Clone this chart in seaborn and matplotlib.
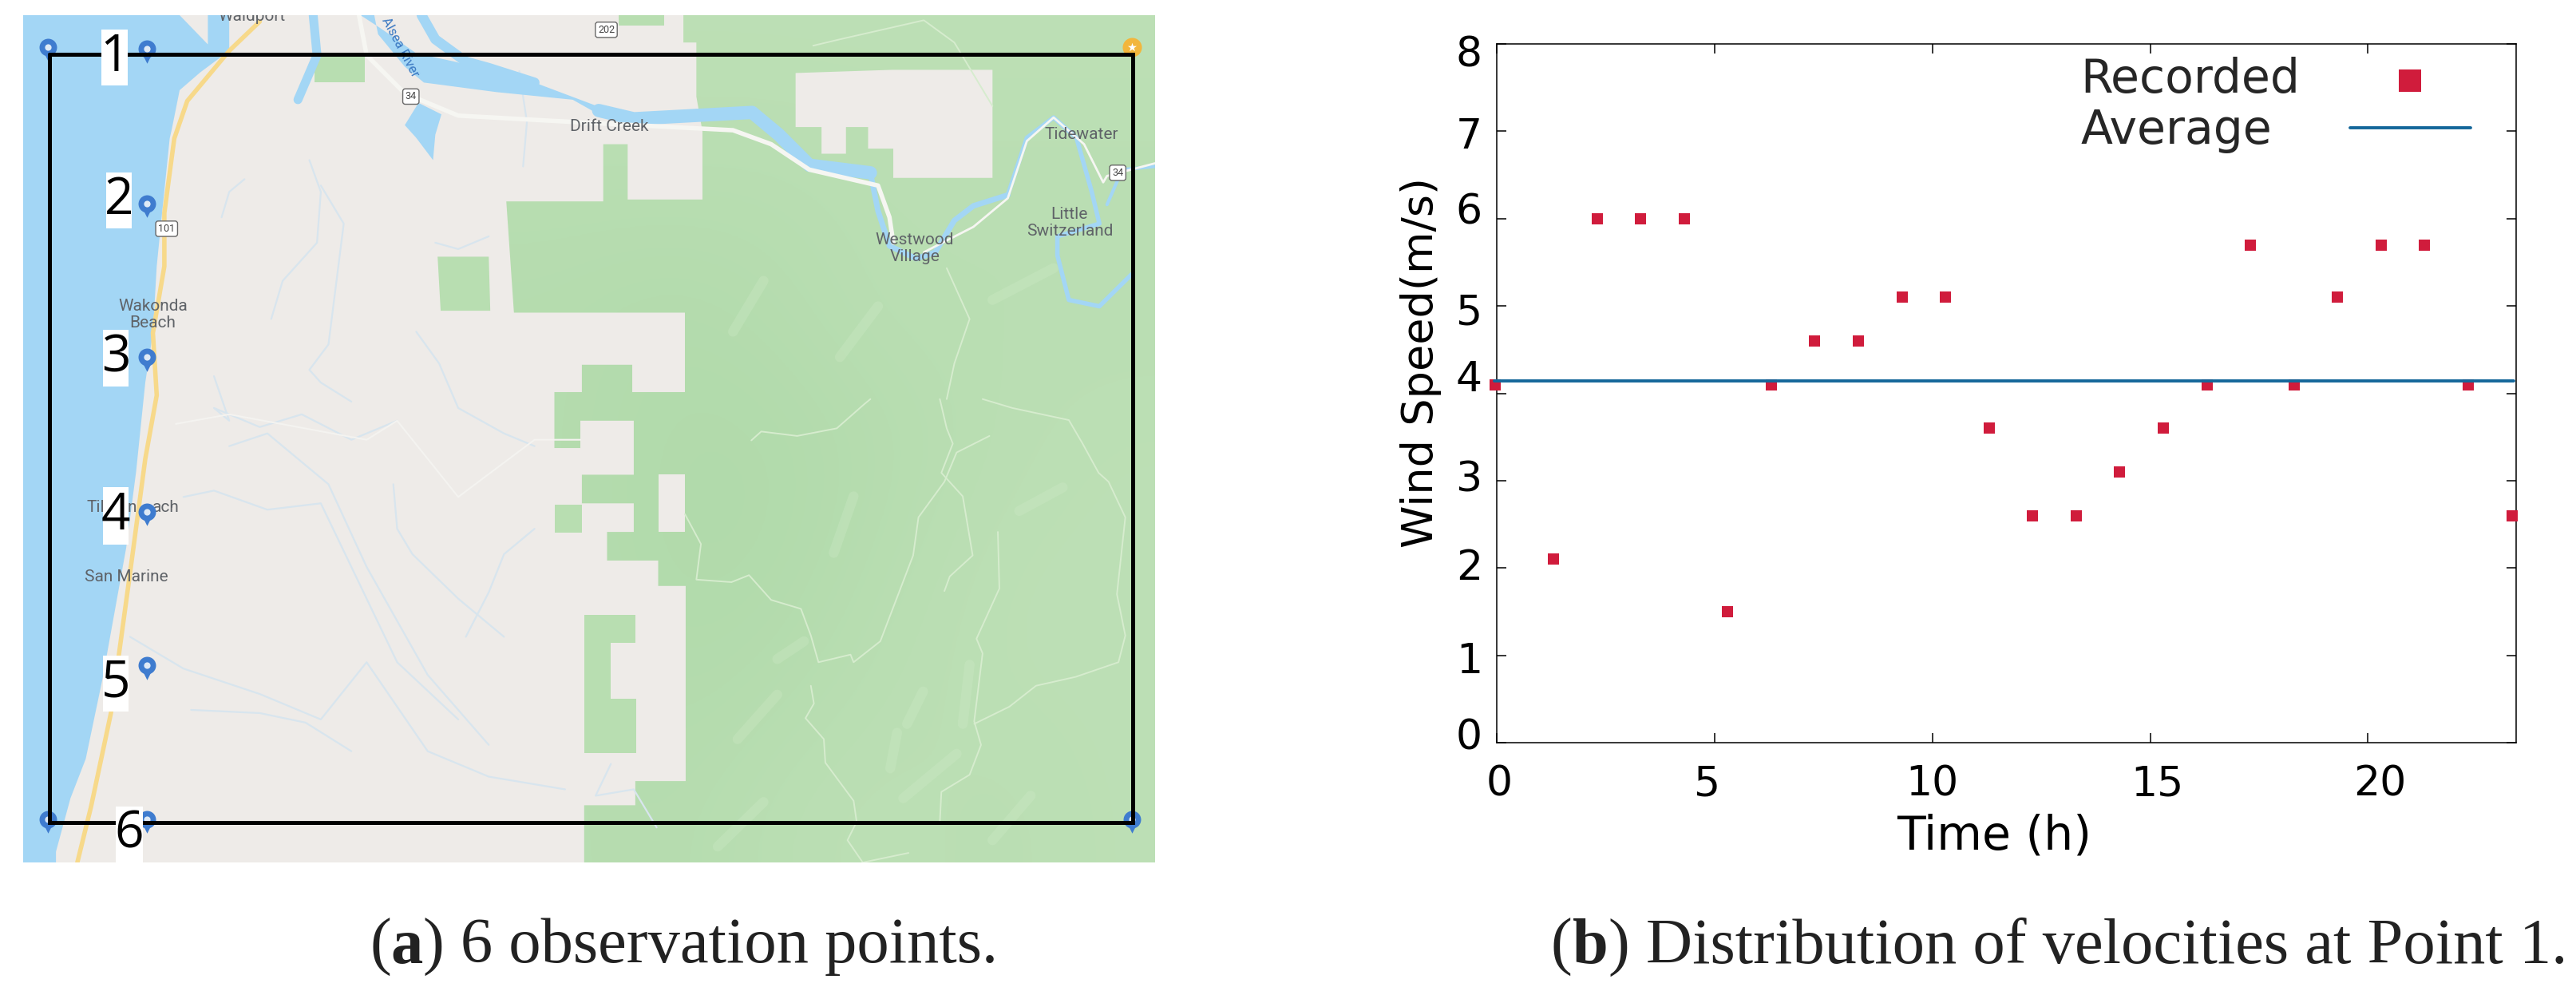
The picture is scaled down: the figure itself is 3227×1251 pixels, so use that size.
import matplotlib
matplotlib.use("Agg")
import matplotlib.pyplot as plt
import numpy as np
import pandas as pd
import seaborn as sns
from matplotlib.patches import Polygon, Rectangle
from matplotlib.transforms import Affine2D
from matplotlib.colors import LinearSegmentedColormap

sns.set_theme(style="white")
plt.rcParams['font.family'] = ['DejaVu Sans']

W, H = 3227, 1251
# ---------- chart data ----------
hours = [-0.03, 1.3, 2.3, 3.3, 4.3, 5.3, 6.3, 7.3, 8.3, 9.3, 10.3, 11.3, 12.3, 13.3, 14.3, 15.3, 16.3, 17.3, 18.3, 19.3, 20.3, 21.3, 22.3, 23.3]
speeds = [4.1, 2.1, 6.0, 6.0, 6.0, 1.5, 4.1, 4.6, 4.6, 5.1, 5.1, 3.6, 2.6, 2.6, 3.1, 3.6, 4.1, 5.7, 4.1, 5.1, 5.7, 5.7, 4.1, 2.6]
average = 4.14
avg_span = [-0.05, 23.35]
xtick_vals = [0, 5, 10, 15, 20]
ytick_vals = [0, 1, 2, 3, 4, 5, 6, 7, 8]
# the reference's tick labels sit slightly off their ticks (pixels)
xlabel_shift = [3, -9, 0, 9, 15]
ylabel_shift = [11, -3, 5, 6, 22, -4, 13, -2, -9]

# ---------- map outlines ----------
sea = [(30,22),(235,22),(272,68),(272,22),(300,22),(300,78),(262,112),(235,140),(225,200),(222,216),(212,333),(205,417),(200,522),(190,600),(178,740),(165,860),(134,1066),(112,1192),(92,1254),(73,1338),(73,1355),(30,1355)]
forest = [(895,22),(1513,22),(1513,1355),(765,1355),(765,1265),(832,1265),(832,1227),(898,1227),(898,920),(862,920),(862,880),(795,880),(795,835),(830,835),(830,790),(762,790),(762,745),(830,745),(830,660),(760,660),(760,703),(726,703),(726,615),(762,615),(762,572),(828,572),(828,615),(897,615),(897,490),(673,490),(663,315),(790,315),(790,225),(822,225),(822,312),(920,312),(920,205),(912,150),(912,65),(895,65)]
forest_blocks = [[(573,402),(640,402),(642,487),(577,487)],
                 [(412,86),(478,86),(478,128),(412,128)],
                 [(727,792),(762,792),(762,836),(727,836)],
                 [(765,965),(832,965),(832,1010),(800,1010),(800,1098),(833,1098),(833,1183),(765,1183)],
                 [(810,22),(870,22),(870,38),(810,38)]]
clearings = [[(1042,113),(1168,108),(1300,108),(1300,278),(1170,278),(1170,232),(1137,232),(1137,198),(1108,198),(1108,240),(1076,240),(1076,198),(1042,198)],
             [(862,745),(897,745),(897,835),(862,835)]]
estuary = [(472,22),(500,44),(545,82),(595,95),(700,128),(784,166),(784,178),(750,155),(650,143),(555,128),(530,103),(495,52),(490,22)]
inlet = [(548,160),(578,178),(570,210),(567,250),(545,215),(530,195)]
rivers = [([784,830,985,1020,1060,1140], [172,185,175,210,258,270], 12),
          ([1140,1150,1165,1200,1225,1250,1275,1320], [270,330,385,405,395,345,322,305], 5),
          ([1320,1345,1380,1410,1430,1440,1385,1385,1400,1440,1482], [305,215,183,215,300,350,370,400,470,480,430], 4),
          ([552,570,610,640,700], [22,60,95,105,128], 9),
          ([410,415,390], [22,85,155], 8),
          ([1513,1470,1450], [260,265,320], 3)]
streams = [([405,420,415,370,355],[250,300,380,440,500]),([420,450,430,405,420,460],[290,350,540,580,600,630]),
           ([545,575,600,660,700],[520,570,640,680,700]),([280,300,280,340,395,460,520],[590,660,640,670,650,690,660]),
           ([240,280,350,420,520,600],[780,770,800,790,1040,1130]),([300,350,430,480,560,640],[700,680,760,890,1060,1170]),
           ([170,240,340,420,480,560,640,740],[1000,1050,1090,1130,1040,1180,1220,1240]),([515,520,540,600,660],[760,830,870,940,1000]),
           ([700,660,640,610],[830,870,930,1000]),([320,300,290],[280,300,340]),([250,340,400,460],[1115,1120,1135,1180]),
           ([800,780,830,860],[1200,1250,1240,1300]),([680,690,685],[110,190,260]),([570,600,640],[380,390,370])]
roads = [([470,480,530,600,750,960,1010,1060,1150,1165,1170], [22,85,145,180,190,203,225,265,290,340,380], 4),
         ([1210,1275,1320,1345,1380,1420,1445,1450,1513], [395,355,310,220,183,225,285,275,255], 2)]
land_tracks = [([230,300,480,520,600,700,760],[665,650,690,660,780,690,690])]
forest_roads = [([984,997,1044,1096,1131,1140],[691,677,684,672,635,626]),
                ([897,918,912,958,981,1010,1049,1062,1072,1114,1118,1153,1196,1203,1237,1253,1296],[807,854,910,914,903,942,956,998,1040,1028,1040,1007,872,812,756,710,684]),
                ([1231,1240,1248,1233,1261,1274,1244,1237],[626,672,696,742,779,872,905,928]),
                ([1307,1309,1279,1287,1276,1285,1270,1233,1231],[835,924,1003,1026,1133,1170,1217,1244,1291]),
                ([1276,1322,1357,1409,1465,1474,1463,1474,1452,1439,1418,1400,1326,1287],[1137,1110,1077,1063,1040,998,933,812,756,742,696,659,640,626]),
                ([1062,1066,1055,1079,1081,1118,1122],[1077,1105,1128,1161,1198,1258,1291]),
                ([1065,1100,1210,1250,1300],[70,60,30,65,165]),
                ([1240,1270,1250,1240],[420,500,570,626]),
                ([1122,1110,1130,1190],[1291,1320,1355,1340])]
ridges = [([1118,1092],[779,868]),([1392,1335],[765,802]),([1209,1188],[1086,1137]),([1270,1261],[1044,1137]),
          ([1018,1053],[1035,1007]),([966,1018],[1161,1091]),([1166,1175],[1207,1151]),([1183,1253],[1254,1184]),
          ([960,1000],[520,440]),([1100,1150],[560,480]),([1300,1380],[470,420]),([1350,1300],[1250,1320]),([940,1000],[1330,1260])]
hwy = ([340,300,245,228,215,215,200,205,190,170,145,119,101], [32,78,157,216,333,417,522,620,720,900,1120,1267,1355])
relief = [[.6,.6,.6,.6,.6,.6],[.4,.4,.4,.5,.5,.5],[.3,.2,.3,.5,.5,.5],[.3,.15,.15,.3,.5,.6],[.3,.15,.15,.4,.6,.6],[.4,.2,.3,.5,.6,.6],[.4,.3,.5,.6,.5,.6]]
pins_x = [62,192,192,192,192,192,192,62,1483]
pins_y = [72,75,318,560,803,1045,1287,1287,1287]
star_xy = (1483,72)
rect_x = [65,1484,1484,65,65]
rect_y = [84,84,1292,1292,84]
point_names = ['1','2','3','4','5','6']
point_boxes = [(133,44,167,133),(139,270,172,358),(135,517,168,606),(135,765,168,855),(135,1030,168,1117),(151,1267,187,1355)]
place_names = [("Drift Creek",798,197),("Tidewater",1416,210),("Westwood",1198,376),("Village",1198,402),("Little",1401,335),("Switzerland",1401,362),
               ("Wakonda",200,480),("Beach",200,506),("Til",125,796),("n",173,796),("ach",217,796),("San Marine",165,906)]
shields = [("101",218,358),("34",538,150),("34",1464,270),("202",794,45)]

def px_axes(l, t, r, b):
    return fig.add_axes([l/W, 1-b/H, (r-l)/W, (b-t)/H])

fig = plt.figure(figsize=(W/100, H/100), dpi=100)

# ---------- (a) map ----------
m = px_axes(29, 19, 1447, 1080)
m.add_patch(Rectangle((30,22),1483,1333,fc='#eeebe8',ec='none',zorder=0))
green_cm = LinearSegmentedColormap.from_list('g',['#aed9a8','#c6e4be'])
im = m.imshow(relief, extent=(660,1513,1355,22), cmap=green_cm, vmin=0, vmax=1, interpolation='bicubic', aspect='auto', zorder=1)
clip = Polygon(forest, transform=m.transData, fc='none', ec='none')
m.add_patch(clip); im.set_clip_path(clip)
m.set_xlim(30, 1513); m.set_ylim(1355, 22); m.axis('off')
for xs, ys in ridges:
    m.plot(xs, ys, color='#d3edcb', lw=9, alpha=.28, solid_capstyle='round', zorder=1.05)
for b in forest_blocks:
    m.add_patch(Polygon(b, fc='#b8deb1', ec='none', zorder=1.1))
for c in clearings:
    m.add_patch(Polygon(c, fc='#eeebe8', ec='none', zorder=1.2))
for xs, ys in streams:
    m.plot(xs, ys, color='#d8e5ee', lw=1.6, zorder=1.5)
m.add_patch(Polygon(sea, fc='#a3d6f5', ec='none', zorder=2))
m.add_patch(Polygon(estuary, fc='#a3d6f5', ec='none', zorder=2))
m.add_patch(Polygon(inlet, fc='#a3d6f5', ec='none', zorder=2))
for xs, ys, w in rivers:
    m.plot(xs, ys, color='#a3d6f5', lw=w, solid_capstyle='round', solid_joinstyle='round', zorder=2)
for xs, ys, w in roads:
    m.plot(xs, ys, color='#f6f6f2', lw=w, zorder=2.5)
for xs, ys in land_tracks:
    m.plot(xs, ys, color='#f4f3f0', lw=1.5, zorder=1.6)
for xs, ys in forest_roads:
    m.plot(xs, ys, color='#d6ecce', lw=1.4, zorder=2.4)
m.plot(*hwy, color='#f7d98a', lw=4, zorder=2.6)
for name, x, y in place_names:
    m.text(x, y, name, ha='center', va='center', fontsize=15, color='#5f6368', family='Roboto', zorder=3)
m.text(330, 24, "Waldport", ha='center', va='center', fontsize=15, color='#5f6368', family='Roboto', zorder=3, clip_on=True)
m.text(524, 73, "Alsea River", ha='center', va='center', fontsize=12, color='#3a78c2', rotation=-62, family='Roboto', zorder=3)
for name, x, y in shields:
    m.text(x, y, name, ha='center', va='center', fontsize=9, color='#444444', family='Roboto', zorder=3,
           bbox=dict(boxstyle='round,pad=0.25', fc='white', ec='#666666', lw=1))
m.scatter(pins_x, pins_y, s=250, marker='o', color='#3f7ccf', linewidths=0, zorder=3.2)
m.scatter(pins_x, [y+13 for y in pins_y], s=110, marker='v', color='#3f7ccf', linewidths=0, zorder=3.2)
m.scatter(pins_x, pins_y, s=35, marker='o', color='#dfeaf6', linewidths=0, zorder=3.3)
m.scatter(*star_xy, s=300, marker='o', color='#f2b63c', linewidths=0, zorder=3.2)
m.scatter(*star_xy, s=70, marker='*', color='white', linewidths=0, zorder=3.3)
m.plot(rect_x, rect_y, color='black', lw=3.6, solid_joinstyle='miter', zorder=4)
for name, (x0, y0, x1, y1) in zip(point_names, point_boxes):
    m.add_patch(Rectangle((x0,y0), x1-x0, y1-y0, fc='white', ec='none', zorder=5))
    m.text((x0+x1)/2, (y0+y1)/2, name, ha='center', va='center', fontsize=46, color='black', family='Open Sans', zorder=6)

# ---------- (b) scatter ----------
ax = px_axes(1875, 55, 3152, 930)
df = pd.DataFrame({'hours': hours, 'speeds': speeds})
sns.scatterplot(data=df, x='hours', y='speeds', marker='s', s=106, color='#d01c3c', linewidth=0, clip_on=False, ax=ax, label='Recorded', zorder=4)
line = sns.lineplot(x=avg_span, y=[average, average], color='#14679a', lw=2.8, ax=ax, label='Average', zorder=5, errorbar=None)
ax.get_lines()[0].set_clip_on(False)
ax.set_xlim(0, 23.4); ax.set_ylim(0, 8)
ax.set_xticks(xtick_vals); ax.set_yticks(ytick_vals)
ax.set_xticklabels([str(v) for v in xtick_vals]); ax.set_yticklabels([str(v) for v in ytick_vals])
ax.tick_params(axis='both', which='both', direction='in', length=8.5, width=1.1, color='black',
               top=True, right=True, bottom=True, left=True, labelsize=37.5, labelcolor='black')
ax.tick_params(axis='x', pad=20); ax.tick_params(axis='y', pad=13)
for s in ax.spines.values():
    s.set_visible(True); s.set_color('black'); s.set_linewidth(1.1)
ax.set_xlabel('Time (h)', fontsize=42, color='black', va='center')
ax.set_ylabel('Wind Speed(m/s)', fontsize=39, color='black', va='center')
ax.xaxis.set_label_coords((2498-1875)/1277, -(1047-930)/875)
ax.yaxis.set_label_coords(-(1875-1780)/1277, (930-454)/875)
ax.grid(False)
leg = ax.legend(loc='upper right', bbox_to_anchor=(3095/W, 1-71/H), bbox_transform=fig.transFigure, frameon=False, fontsize=42,
                markerfirst=False, handlelength=2.59, handletextpad=1.07, labelspacing=0.12, borderpad=0, borderaxespad=0, scatterpoints=1)
leg.legend_handles[0].set_sizes([378])
fig.canvas.draw()
for lab, dx in zip(ax.get_xticklabels(), xlabel_shift):
    lab.set_transform(lab.get_transform() + Affine2D().translate(dx, 0))
for lab, dy in zip(ax.get_yticklabels(), ylabel_shift):
    lab.set_transform(lab.get_transform() + Affine2D().translate(0, dy))
t = leg.get_texts()
r = fig.canvas.get_renderer()
t[1].set_x(t[1].get_position()[0] + (t[0].get_window_extent(r).x0 - t[1].get_window_extent(r).x0))

# ---------- captions ----------
def caption(x, y, letter, rest):
    serif = ['Liberation Serif', 'DejaVu Serif']
    kw = dict(fontsize=58, family=serif, color='#222222', va='baseline', ha='left')
    r = fig.canvas.get_renderer()
    a = fig.text(x/W, 1-y/H, '(', **kw)
    x1 = a.get_window_extent(r).x1 / W
    b = fig.text(x1, 1-y/H, letter, weight='bold', **kw)
    x2 = b.get_window_extent(r).x1 / W
    fig.text(x2, 1-y/H, ') ' + rest, **kw)

caption(463, 1206, 'a', '6 observation points.')
caption(1943, 1206, 'b', 'Distribution of velocities at Point 1.')

fig.savefig('out.png', dpi=100, facecolor='white')
